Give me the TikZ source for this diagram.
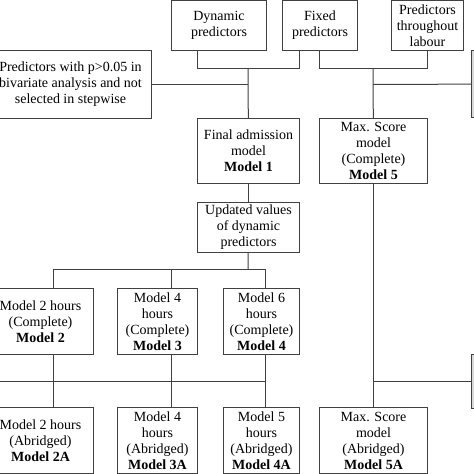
\documentclass[tikz,border=0pt]{standalone}
\usepackage{fontspec}
\setmainfont{Liberation Serif}
\usetikzlibrary{positioning}

\begin{document}
\begin{tikzpicture}[x=1pt, y=-1pt, line width=1pt,
    box/.style={draw=black!75, anchor=north west, inner sep=0pt, align=center,
        font=\fontsize{14}{16}\selectfont},
    greybox/.style={box, fill=black!15},
    link/.style={draw=black!75}]
                    \useasboundingbox (0, 0) rectangle (474, 474);
                    % inputs
                    \node[box, minimum width=95, minimum height=50] (dyn) at (171, 0) {Dynamic\\predictors};
                    \node[box, minimum width=75, minimum height=50] (fix) at (282, 0) {Fixed\\predictors};
                    \node[box, minimum width=72, minimum height=50] (lab) at (391, 0) {Predictors\\throughout\\labour};
                    \node[box, minimum width=162, minimum height=68] (pval) at (-11, 50) {Predictors with p>0.05 in\\bivariate analysis and not\\selected in stepwise};
                    \node[greybox, minimum width=60, minimum height=67] (side1) at (471, 50) {};
                    % first models
                    \node[box, minimum width=102, minimum height=65] (fin) at (197, 118) {Final admission\\model\\\textbf{Model 1}};
                    \node[box, minimum width=108, minimum height=65] (max) at (319, 118) {Max. Score\\model\\(Complete)\\\textbf{Model 5}};
                    \node[box, minimum width=102, minimum height=50] (upd) at (197, 202) {Updated values\\of dynamic\\predictors};
                    % complete models
                    \node[box, minimum width=106, minimum height=66] (m2) at (-13, 288) {Model 2 hours\\(Complete)\\\textbf{Model 2}};
                    \node[box, minimum width=80, minimum height=66] (m3) at (117, 288) {Model 4\\hours\\(Complete)\\\textbf{Model 3}};
                    \node[box, minimum width=76, minimum height=66] (m4) at (223, 288) {Model 6\\hours\\(Complete)\\\textbf{Model 4}};
                    \node[greybox, minimum width=60, minimum height=54] (side2) at (471, 354) {};
                    % abridged models
                    \node[box, minimum width=106, minimum height=66] (m2a) at (-13, 407) {Model 2 hours\\(Abridged)\\\textbf{Model 2A}};
                    \node[box, minimum width=80, minimum height=66] (m3a) at (117, 407) {Model 4\\hours\\(Abridged)\\\textbf{Model 3A}};
                    \node[box, minimum width=76, minimum height=66] (m4a) at (223, 407) {Model 5\\hours\\(Abridged)\\\textbf{Model 4A}};
                    \node[box, minimum width=108, minimum height=66] (m5a) at (319, 407) {Max. Score\\model\\(Abridged)\\\textbf{Model 5A}};
                    % junctions
                    \coordinate (c1) at (197, 68);
                    \coordinate (c2) at (299, 68);
                    \coordinate (c3) at (319, 68);
                    \coordinate (c4) at (427, 68);
                    \coordinate (j1) at (248, 68);
                    \coordinate (j2) at (373, 68);
                    \coordinate (j3) at (248, 269);
                    \coordinate (b2) at (53, 269);
                    \coordinate (b3) at (171, 269);
                    \coordinate (b4) at (265, 269);
                    \coordinate (j4) at (0, 381);
                    \draw[link] (c1 |- dyn.south) -- (c1) -- (c2) -- (c2 |- fix.south);
                    \draw[link] (c3 |- fix.south) -- (c3) -- (c4) -- (c4 |- lab.south);
                    \draw[link] (j1) -- (fin);
                    \draw[link] (pval) -- (pval -| j1);
                    \draw[link] (j2) -- (max);
                    \draw[link] (j2 |- pval) -- (side1);
                    \draw[link] (fin) -- (upd);
                    \draw[link] (upd) -- (j3);
                    \draw[link] (b2) -- (b4);
                    \draw[link] (b2) -- (b2 |- m2.north);
                    \draw[link] (b3) -- (b3 |- m3.north);
                    \draw[link] (b4) -- (b4 |- m4.north);
                    \draw[link] (b2 |- m2.south) -- (b2 |- m2a.north);
                    \draw[link] (b3 |- m3.south) -- (b3 |- m3a.north);
                    \draw[link] (b4 |- m4.south) -- (b4 |- m4a.north);
                    \draw[link] (j4) -- (j4 -| b4);
                    \draw[link] (max) -- (m5a);
                    \draw[link] (j2 |- j4) -- (side2.west |- j4);
                \end{tikzpicture}
\end{document}
